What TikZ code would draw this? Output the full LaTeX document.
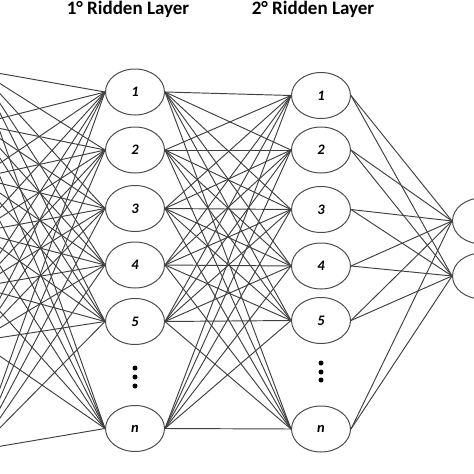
\documentclass[tikz,border=0pt]{standalone}
\usepackage{fontspec}
\setmainfont{Carlito}
\usetikzlibrary{shapes.geometric}
\begin{document}
\begin{tikzpicture}[x=1pt,y=-1pt,
  neuron/.style={draw=black!70, line width=1pt, ellipse, minimum width=59pt, minimum height=46pt, inner sep=0pt, font=\bfseries\itshape\fontsize{14.5}{14.5}\selectfont},
  link/.style={draw=black!75, line width=0.95pt},
  dotmark/.style={circle, fill=black, inner sep=0pt, minimum size=5pt},
  title/.style={font=\bfseries\fontsize{19}{19}\selectfont, anchor=base}]
\useasboundingbox (0,0) rectangle (474,474);
\clip (0,0) rectangle (474,474);
% titles
\node[title] (t1) at (128,14) {1° Ridden Layer};
\node[title] (t2) at (313,14) {2° Ridden Layer};
% first hidden layer
\foreach \n/\y in {1/92,2/150,3/208.5,4/265,5/321.5,n/428.5}
  \node[neuron] (a\n) at (135,\y) {\n};
\foreach \y [count=\k] in {368,377,386} \node[dotmark] (ad\k) at (135,\y) {};
% second hidden layer
\foreach \n/\y in {1/95.5,2/150,3/209.5,4/266,5/320.5,n/429}
  \node[neuron] (b\n) at (321,\y) {\n};
\foreach \y [count=\k] in {363,372,380} \node[dotmark] (bd\k) at (321,\y) {};
% output layer
\node[neuron] (o1) at (482,221) {};
\node[neuron] (o2) at (482,276) {};
% input coordinates (off picture)
\foreach \i/\y in {1/69.6,2/124,3/178,4/232,5/287,6/341,7/450}
  \coordinate (in\i) at (-22,\y);
% connections
\foreach \i in {1,...,7}
  \foreach \j in {1,2,3,4,5,n}
    \draw[link] (in\i) -- (a\j.west);
\foreach \i in {1,2,3,4,5,n}
  \foreach \j in {1,2,3,4,5,n}
    \draw[link] (a\i.east) -- (b\j.west);
\foreach \i in {1,2,3,4,5,n}
  \foreach \j in {1,2}
    \draw[link] (b\i.east) -- (o\j.west);
\end{tikzpicture}
\end{document}
